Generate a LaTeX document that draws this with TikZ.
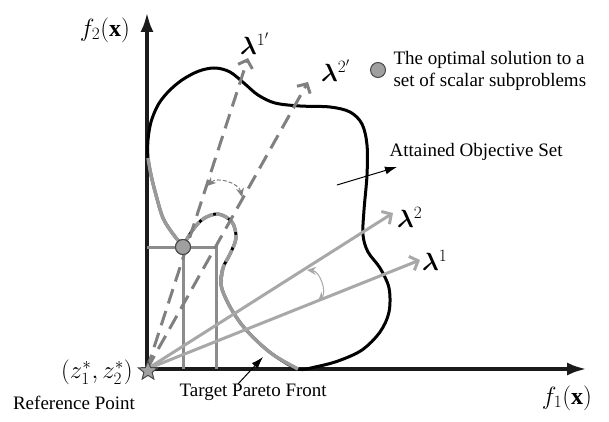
\documentclass[tikz,border=0pt]{standalone}
\usepackage{amsmath,bm}
\usepackage{fontspec}
\setmainfont{Liberation Serif}
\usetikzlibrary{arrows.meta,shapes.geometric,calc}
\definecolor{axisblack}{HTML}{1A1A1A}
\definecolor{frontgray}{HTML}{9A9A9A}
\definecolor{raygray}{HTML}{A8A8A8}
\definecolor{dashgray}{HTML}{808080}
\definecolor{boxgray}{HTML}{8C8C8C}
\definecolor{dotgray}{HTML}{A0A0A0}

\begin{document}
\begin{tikzpicture}[x=1pt,y=-1pt,>=Latex,font=\fontsize{19}{22}\selectfont]
  \tikzstyle{axis}=[line width=4pt,axisblack,-{Latex[length=20pt,width=13pt]}]
  \tikzstyle{blob}=[line width=3pt,black,line join=round]
  \tikzstyle{front}=[line width=3.5pt,frontgray]
  \tikzstyle{boxline}=[line width=3pt,boxgray]
  \tikzstyle{ray}=[line width=3pt,raygray,-{Straight Barb[length=7pt,width=15pt]}]
  \tikzstyle{dray}=[line width=3pt,dashgray,dash pattern=on 15pt off 8pt,-{Straight Barb[length=7pt,width=15pt]}]
  \tikzstyle{turn}=[line width=1pt,raygray,{Stealth[length=9pt,width=8pt]}-{Stealth[length=9pt,width=8pt]}]
  \tikzstyle{pointer}=[line width=1pt,black,-{Latex[length=12pt,width=8pt]}]
  \tikzstyle{dot}=[circle,draw=axisblack!80,line width=1pt,fill=dotgray,minimum size=15pt,inner sep=0pt]
  \tikzstyle{mathlab}=[font=\fontsize{24}{28}\selectfont]
  \useasboundingbox (0,0) rectangle (609,422);

  % axes
  \coordinate (O) at (147,369);
  \coordinate (ytip) at (147,12);
  \coordinate (xtip) at (587,369);
  \draw[axis] (O) -- (ytip);
  \draw[axis] (O) -- (xtip);

  % attained objective set
  \draw[blob] plot[smooth,tension=0.55] coordinates {
    (183,246) (173,234) (163,218) (156,195) (151,175) (148,158) (148,140)
    (151,122) (158,105) (168,92) (182,80) (199,71) (215,68) (230,72)
    (245,84) (258,95) (275,103) (300,106) (330,107) (350,112) (362,124)
    (367,145) (367,175) (364,210) (363,235) (368,252) (380,268) (389,288)
    (389,312) (380,332) (362,350) (338,361) (315,367) (298,369)
    (275,356) (258,342) (242,325) (229,305) (221,285) (223,268) (230,254)
    (236,238) (232,222) (218,214) (203,219) (192,231) (183,246)};
  % target pareto front
  \draw[front] plot[smooth,tension=0.55] coordinates {
    (183,246) (173,234) (163,218) (156,195) (151,175) (148,158)};
  \draw[front,dash pattern=on 13pt off 3pt] plot[smooth,tension=0.55] coordinates {
    (183,246) (192,231) (203,219) (218,214) (232,222) (236,238) (230,254)
    (223,268) (221,285)};
  \draw[front] plot[smooth,tension=0.55] coordinates {
    (223,268) (221,285) (229,305) (242,325) (258,342) (275,356) (298,369)};

  % projections of the solution
  \node[dot] (sol) at (183,247) {};
  \coordinate (yk) at (147,247);
  \coordinate (bc) at (216,247);
  \coordinate (xk1) at (183,369);
  \coordinate (xk2) at (216,369);
  \draw[boxline] (yk) -- (bc) -- (xk2);
  \draw[boxline] (sol.center) -- (xk1);

  % weight vectors
  \coordinate (l1ptip) at (248,58);
  \coordinate (l2ptip) at (308,82);
  \coordinate (l2tip) at (393,213);
  \coordinate (l1tip) at (420,260);
  \draw[dray] (O) -- (l1ptip);
  \draw[dray] (O) -- (l2ptip);
  \draw[ray] (O) -- (l2tip);
  \draw[ray] (O) -- (l1tip);
  \coordinate (da) at (207,186);
  \coordinate (db) at (242,197);
  \draw[turn,dashgray,dash pattern=on 4pt off 2pt] (db) to[bend right=60] (da);
  \coordinate (sa) at (307,270);
  \coordinate (sb) at (318,301);
  \draw[turn] (sb) to[bend right=65] (sa);
  \node[dot] at (183,247) {};

  \node[star,star points=5,star point ratio=2.3,draw=axisblack!80,line width=1pt,fill=dotgray,minimum size=20pt,inner sep=0pt] (ref) at (148,371) {};

  % labels
  \node[mathlab] (f2) at (105,30) {$f_2(\mathbf{x})$};
  \node[mathlab] (f1) at (567,398) {$f_1(\mathbf{x})$};
  \node[mathlab,anchor=west,inner sep=1pt] (l1p) at (239,44) {$\bm{\lambda}^{1'}$};
  \node[mathlab,anchor=west,inner sep=1pt] (l2p) at (320,71) {$\bm{\lambda}^{2'}$};
  \node[mathlab,anchor=west,inner sep=1pt] (l2) at (396,217) {$\bm{\lambda}^{2}$};
  \node[mathlab,anchor=west,inner sep=1pt] (l1) at (421,260) {$\bm{\lambda}^{1}$};
  \node[dot] (leg) at (378,70) {};
  \node[anchor=west,align=left] (legtxt) at (390,71) {The optimal solution to a\\set of scalar subproblems};
  \node[anchor=west] (aos) at (386,152) {Attained Objective Set};
  \coordinate (aostail) at (337,185);
  \coordinate (aoshead) at (397,167);
  \draw[pointer] (aostail) -- (aoshead);
  \node[anchor=west] (tpf) at (176,392) {Target Pareto Front};
  \coordinate (tpftail) at (238,384);
  \coordinate (tpfhead) at (263,357);
  \draw[pointer] (tpftail) -- (tpfhead);
  \node[mathlab,anchor=east,inner sep=1pt] (zstar) at (134,372) {$(z_1^*,z_2^*)$};
  \node (refpt) at (74,403) {Reference Point};
\end{tikzpicture}
\end{document}
